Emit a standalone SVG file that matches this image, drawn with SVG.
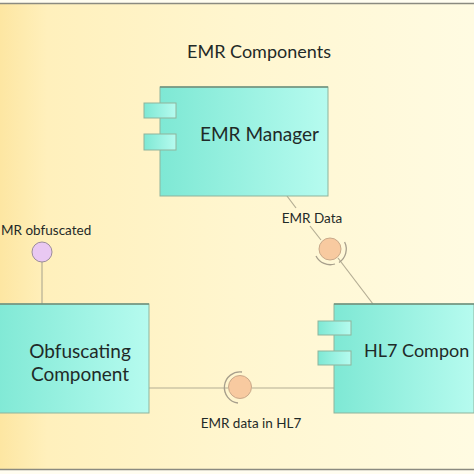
<svg xmlns="http://www.w3.org/2000/svg" width="474" height="474" viewBox="0 0 474 474">
<defs>
<linearGradient id="bg" x1="0" y1="0" x2="1" y2="0">
<stop offset="0" stop-color="#fde6a2"/>
<stop offset="0.1" stop-color="#fff0bc"/>
<stop offset="0.5" stop-color="#fff6cf"/>
<stop offset="1" stop-color="#fffbe2"/>
</linearGradient>
<linearGradient id="cy" x1="0" y1="0" x2="1" y2="0">
<stop offset="0" stop-color="#7ee8d4"/>
<stop offset="1" stop-color="#b6fbef"/>
</linearGradient>
<style>
.box{fill:url(#cy);stroke:#8fb39c;stroke-width:1}
.top{stroke:#6f907c;stroke-width:1.5}
.tab{fill:url(#cy);stroke:#8fb39c;stroke-width:1}
.ln{stroke:#b4ad94;stroke-width:1.2;fill:none}
.arc{stroke:#a79f8c;stroke-width:1.3;fill:none}
.prov{fill:#f8caa0;stroke:#c9a98a;stroke-width:1}
.pur{fill:#e9c8f2;stroke:#9b8c9c;stroke-width:1}
text{font-family:Lato,"Open Sans",sans-serif;fill:#1f2a28}
.big{font-size:19px}
.sm{font-size:13.5px}
</style>
</defs>
<rect x="0" y="0" width="474" height="474" fill="#fffdf0"/>
<rect x="0" y="4" width="474" height="465" fill="url(#bg)"/>
<line x1="0" y1="3.5" x2="474" y2="3.5" stroke="#8a8a80" stroke-width="1.6"/>
<line x1="0" y1="469.5" x2="474" y2="469.5" stroke="#8a8a80" stroke-width="1.6"/>
<text x="259" y="58" text-anchor="middle" style="font-size:18px">EMR Components</text>
<g id="connectors">
<line class="ln" x1="287" y1="196" x2="296" y2="208"/>
<line class="ln" x1="310" y1="226" x2="321" y2="240"/>
<line class="ln" x1="338" y1="258" x2="373" y2="304"/>
<path class="arc" d="M 344.6 242 A 16 16 0 0 1 339 262.5"/>
<path class="arc" d="M 335 264 A 16 16 0 0 1 316 256"/>
<line class="ln" x1="42" y1="262" x2="42" y2="304"/>
<line class="ln" x1="149" y1="388" x2="228" y2="388"/>
<line class="ln" x1="252" y1="388" x2="334" y2="388"/>
<path class="arc" d="M 242 372 A 15.5 15.5 0 0 0 238 403"/>
</g>
<g id="emr-manager">
<rect class="box" x="160" y="87" width="168" height="109"/>
<line class="top" x1="160" y1="87" x2="328" y2="87"/>
<rect class="tab" x="144" y="103" width="32" height="15"/>
<rect class="tab" x="144" y="134" width="32" height="16"/>
<text class="big" x="200" y="141">EMR Manager</text>
</g>
<g id="obfuscating-component">
<rect class="box" x="-10" y="304" width="159" height="109"/>
<line class="top" x1="-10" y1="304" x2="149" y2="304"/>
<text class="big" x="80" y="358" text-anchor="middle">Obfuscating</text>
<text class="big" x="80" y="381" text-anchor="middle">Component</text>
</g>
<g id="hl7-component">
<rect class="box" x="334" y="304" width="140" height="109"/>
<line class="top" x1="334" y1="304" x2="474" y2="304"/>
<rect class="tab" x="318" y="321" width="33" height="14"/>
<rect class="tab" x="318" y="351" width="33" height="14"/>
<text x="364" y="357" style="font-size:18px">HL7 Compon</text>
</g>
<g id="emr-data">
<circle class="prov" cx="330" cy="249" r="11"/>
<text class="sm" x="312" y="223" text-anchor="middle">EMR Data</text>
</g>
<g id="emr-obfuscated">
<circle class="pur" cx="42" cy="252" r="10"/>
<text class="sm" x="1" y="235">MR obfuscated</text>
</g>
<g id="emr-data-in-hl7">
<circle class="prov" cx="240" cy="387" r="11.5"/>
<text class="sm" x="251" y="428" text-anchor="middle">EMR data in HL7</text>
</g>
</svg>
